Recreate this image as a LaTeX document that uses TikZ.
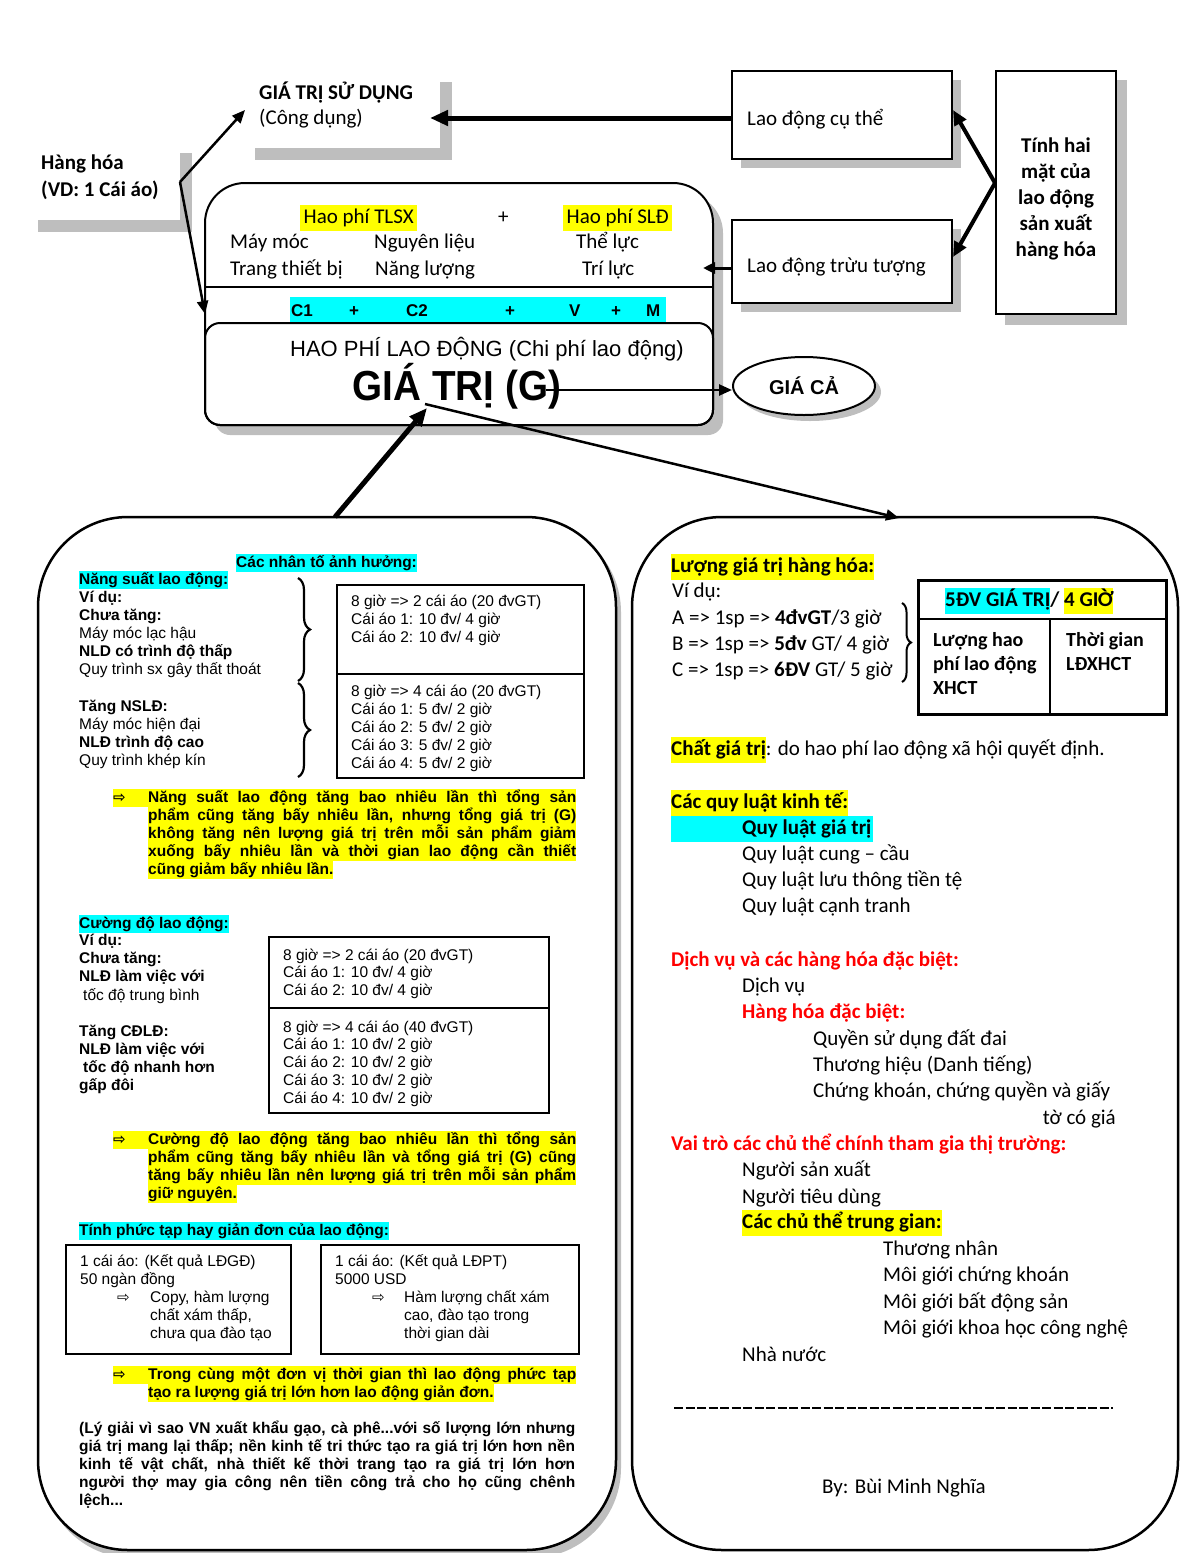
\documentclass[tikz,border=0pt]{standalone}
\usepackage{fontspec}
\setmainfont{Carlito}
\newfontfamily\arialf{Liberation Sans}
\newfontfamily\djv{DejaVu Sans}
\usetikzlibrary{arrows.meta,shapes.geometric,decorations.pathreplacing}
\definecolor{hy}{RGB}{255,255,0}
\definecolor{hc}{RGB}{0,255,255}
\definecolor{sh}{RGB}{190,190,190}
\definecolor{rd}{RGB}{255,0,0}
\newcommand\fc{\fontsize{21}{26}\selectfont}
\newcommand\fa{\arialf\fontsize{15.5}{18}\selectfont}
\newcommand\hlb[2]{{\setlength{\fboxsep}{0pt}\colorbox{#1}{\strut #2}}}
\newcommand\jl[1]{\makebox[428pt][s]{#1}}
\newcommand\jw[1]{\makebox[496pt][s]{#1}}
\newcommand\arr{\makebox[35pt][l]{\djv\fontsize{15}{18}\selectfont ⇨}}
\tikzset{
  every node/.style={inner sep=0pt},
  tc/.style={anchor=base west, font=\fc},
  tcb/.style={anchor=base west, font=\fc\bfseries},
  tred/.style={anchor=base west, font=\fc\bfseries, text=rd},
  ta/.style={anchor=base west, font=\fa},
  tab/.style={anchor=base west, font=\fa\bfseries},
  boxn/.style={draw, line width=2pt, fill=white, anchor=north west},
  thinarr/.style={line width=2.5pt, -{Triangle[length=13pt,width=11pt]}},
  thickarr/.style={line width=5pt, -{Triangle[length=18pt,width=15pt]}},
  midarr/.style={line width=4pt, -{Triangle[length=15pt,width=13pt]}},
  bracel/.style={decorate, decoration={brace, amplitude=12pt}, line width=2.2pt}
}
\begin{document}
\begin{tikzpicture}[x=1pt,y=-1pt]
\useasboundingbox (0,0) rectangle (1200,1553);

% ---------- gray L-shaped shadows ----------
\fill[sh] (38,220) rectangle (192,232);
\fill[sh] (180,153) rectangle (192,232);
\fill[sh] (255,148) rectangle (452,160);
\fill[sh] (440,82) rectangle (452,160);

% ---------- top texts ----------
\node[tcb] (hh1) at (41,169) {Hàng hóa};
\node[tcb] (hh2) at (41,196) {(VD: 1 Cái áo)};
\node[tcb] (gs1) at (259,99) {GIÁ TRỊ SỬ DỤNG};
\node[tc] (gs2) at (259,124) {(Công dụng)};

% ---------- right boxes ----------
\fill[sh] (741,80) rectangle (961,168);
\node[boxn, minimum width=220, minimum height=88] (ldct) at (731,70) {};
\node[tc] (ldctt) at (747,125) {Lao động cụ thể};
\fill[sh] (741,229) rectangle (961,312);
\node[boxn, minimum width=220, minimum height=83] (ldtt) at (731,219) {};
\node[tc] (ldttt) at (747,272) {Lao động trừu tượng};
\fill[sh] (1005,80) rectangle (1127,325);
\node[boxn, minimum width=120, minimum height=243] (tinh) at (995,70) {};
\node[tcb, anchor=base] (ti1) at (1056,152) {Tính hai};
\node[tcb, anchor=base] (ti2) at (1056,178) {mặt của};
\node[tcb, anchor=base] (ti3) at (1056,204) {lao động};
\node[tcb, anchor=base] (ti4) at (1056,230) {sản xuất};
\node[tcb, anchor=base] (ti5) at (1056,256) {hàng hóa};

% ---------- central box ----------
\fill[sh] (215,310) [rounded corners=40pt] -- (215,193) -- (723,193) -- (723,310) [rounded corners=15pt] -- (723,435) -- (215,435) -- cycle;
\filldraw[fill=white, line width=2pt] (205,300) [rounded corners=40pt] -- (205,183) -- (713,183) -- (713,300) [rounded corners=15pt] -- (713,425) -- (205,425) -- cycle;
\draw[line width=2pt] (205,287) -- (713,287);
\draw[line width=2pt, rounded corners=15pt] (205,323) rectangle (713,425);

\node[tc] (hp1) at (300,223) {\hlb{hy}{\,Hao phí TLSX\,}};
\node[tc] (hpplus) at (498,223) {+};
\node[tc] (hp2) at (563,223) {\hlb{hy}{\,Hao phí SLĐ\,}};
\node[tc] (mm) at (230,248) {Máy móc};
\node[tc] (nl) at (374,248) {Nguyên liệu};
\node[tc] (tl) at (576,248) {Thể lực};
\node[tc] (ttb) at (230,275) {Trang thiết bị};
\node[tc] (nlg) at (375,275) {Năng lượng};
\node[tc] (tri) at (582,275) {Trí lực};

\node[fill=hc, anchor=north west, minimum width=376, minimum height=25] (crow) at (290,297) {};
\node[anchor=base west, font=\arialf\bfseries\fontsize{17}{20}\selectfont] (c1) at (291,316) {C1};
\node[anchor=base west, font=\arialf\bfseries\fontsize{17}{20}\selectfont] (pl1) at (349,316) {+};
\node[anchor=base west, font=\arialf\bfseries\fontsize{17}{20}\selectfont] (c2) at (406,316) {C2};
\node[anchor=base west, font=\arialf\bfseries\fontsize{17}{20}\selectfont] (pl2) at (505,316) {+};
\node[anchor=base west, font=\arialf\bfseries\fontsize{17}{20}\selectfont] (cv) at (569,316) {V};
\node[anchor=base west, font=\arialf\bfseries\fontsize{17}{20}\selectfont] (pl3) at (611,316) {+};
\node[anchor=base west, font=\arialf\bfseries\fontsize{17}{20}\selectfont] (cm) at (646,316) {M};

\node[anchor=base, font=\arialf\fontsize{22}{26}\selectfont] (hpld) at (487,356) {HAO PHÍ LAO ĐỘNG (Chi phí lao động)};
\node[anchor=base, font=\arialf\bfseries\fontsize{42}{48}\selectfont] (gtg) at (457,400) {\scalebox{0.92}[1]{GIÁ TRỊ (G)}};

% GIA CA
\node[ellipse, fill=sh, minimum width=142, minimum height=58] (giacash) at (810,392) {};
\node[ellipse, draw, line width=2pt, fill=white, minimum width=142, minimum height=58, font=\arialf\bfseries\fontsize{20}{24}\selectfont] (giaca) at (804,386) {GIÁ CẢ};

% ---------- lower panels ----------
\fill[sh, rounded corners=90pt] (43,522) rectangle (621,1558);
\filldraw[fill=white, line width=2.5pt, rounded corners=90pt] (38,517) rectangle (616,1550);
\draw[line width=2.5pt, rounded corners=90pt] (632,517) rectangle (1178,1550);

% ---------- connectors ----------
\coordinate (hhj) at (180,182);
\coordinate (gsin) at (245,110);
\coordinate (boxin) at (205,314);
\coordinate (gsarr) at (430,118);
\coordinate (ldcts) at (731,118);
\coordinate (tinhj) at (995,183);
\coordinate (ldcte) at (953,110);
\coordinate (ldtte) at (953,257);
\coordinate (ldtts) at (731,268);
\coordinate (boxr) at (703,268);
\coordinate (gts) at (546,390);
\coordinate (lpt) at (335,517);
\coordinate (gtb) at (427,408);
\coordinate (gtb2) at (425,404);
\coordinate (rpt) at (899,518);

\draw[thinarr] (hhj) -- (gsin);
\draw[thinarr] (hhj) -- (boxin);
\draw[thickarr] (ldcts) -- (gsarr);
\draw[midarr] (tinhj) -- (ldcte);
\draw[midarr] (tinhj) -- (ldtte);
\draw[line width=3pt, -{Triangle[length=12pt,width=11pt]}] (ldtts) -- (boxr);
\draw[thinarr] (gts) -- (giaca.west |- gts);
\draw[thickarr] (lpt) -- (gtb);
\draw[thinarr] (gtb2) -- (rpt);

% ---------- left panel ----------
\node[tab] (l1) at (236,567) {\hlb{hc}{Các nhân tố ảnh hưởng:}};
\node[tab] (l2) at (79,584) {\hlb{hc}{Năng suất lao động:}};
\node[tab] (l3) at (79,602) {Ví dụ:};
\node[tab] (l4) at (79,620) {Chưa tăng:};
\node[ta] (l5) at (79,638) {Máy móc lạc hậu};
\node[tab] (l6) at (79,656) {NLD có trình độ thấp};
\node[ta] (l7) at (79,674) {Quy trình sx gây thất thoát};
\node[tab] (l8) at (79,711) {Tăng NSLĐ:};
\node[ta] (l9) at (79,729) {Máy móc hiện đại};
\node[tab] (l10) at (79,747) {NLĐ trình độ cao};
\node[ta] (l11) at (79,765) {Quy trình khép kín};

\draw[bracel] (298,578) -- (298,681);
\draw[bracel] (298,683) -- (298,777);

\node[boxn, minimum width=247, minimum height=193] (nbox) at (336,584) {};
\draw[line width=2pt] (336,674) -- (583,674);
\node[ta] (n1) at (351,606) {8 giờ => 2 cái áo (20 đvGT)};
\node[ta] (n2) at (351,624) {Cái áo 1: 10 đv/ 4 giờ};
\node[ta] (n3) at (351,642) {Cái áo 2: 10 đv/ 4 giờ};
\node[ta] (n4) at (351,696) {8 giờ => 4 cái áo (20 đvGT)};
\node[ta] (n5) at (351,714) {Cái áo 1: 5 đv/ 2 giờ};
\node[ta] (n6) at (351,732) {Cái áo 2: 5 đv/ 2 giờ};
\node[ta] (n7) at (351,750) {Cái áo 3: 5 đv/ 2 giờ};
\node[ta] (n8) at (351,768) {Cái áo 4: 5 đv/ 2 giờ};

\node[tab] (p1a) at (113,802) {\hlb{hy}{\arr\jl{Năng suất lao động tăng bao nhiêu lần thì tổng sản}}};
\node[tab] (p1b) at (148,820) {\hlb{hy}{\jl{phẩm cũng tăng bấy nhiêu lần, nhưng tổng giá trị (G)}}};
\node[tab] (p1c) at (148,838) {\hlb{hy}{\jl{không tăng nên lượng giá trị trên mỗi sản phẩm giảm}}};
\node[tab] (p1d) at (148,856) {\hlb{hy}{\jl{xuống bấy nhiêu lần và thời gian lao động cần thiết}}};
\node[tab] (p1e) at (148,874) {\hlb{hy}{cũng giảm bấy nhiêu lần.}};

\node[tab] (k1) at (79,928) {\hlb{hc}{Cường độ lao động:}};
\node[tab] (k2) at (79,945) {Ví dụ:};
\node[tab] (k3) at (79,963) {Chưa tăng:};
\node[tab] (k4) at (79,981) {NLĐ làm việc với};
\node[ta] (k5) at (83,1000) {tốc độ trung bình};
\node[tab] (k6) at (79,1036) {Tăng CĐLĐ:};
\node[tab] (k7) at (79,1054) {NLĐ làm việc với};
\node[tab] (k8) at (83,1072) {tốc độ nhanh hơn};
\node[tab] (k9) at (79,1090) {gấp đôi};

\node[boxn, minimum width=280, minimum height=176] (kbox) at (268,936) {};
\draw[line width=2pt] (268,1008) -- (548,1008);
\node[ta] (m1) at (283,960) {8 giờ => 2 cái áo (20 đvGT)};
\node[ta] (m2) at (283,977) {Cái áo 1: 10 đv/ 4 giờ};
\node[ta] (m3) at (283,995) {Cái áo 2: 10 đv/ 4 giờ};
\node[ta] (m4) at (283,1032) {8 giờ => 4 cái áo (40 đvGT)};
\node[ta] (m5) at (283,1049) {Cái áo 1: 10 đv/ 2 giờ};
\node[ta] (m6) at (283,1067) {Cái áo 2: 10 đv/ 2 giờ};
\node[ta] (m7) at (283,1085) {Cái áo 3: 10 đv/ 2 giờ};
\node[ta] (m8) at (283,1103) {Cái áo 4: 10 đv/ 2 giờ};

\node[tab] (p2a) at (113,1144) {\hlb{hy}{\arr\jl{Cường độ lao động tăng bao nhiêu lần thì tổng sản}}};
\node[tab] (p2b) at (148,1162) {\hlb{hy}{\jl{phẩm cũng tăng bấy nhiêu lần và tổng giá trị (G) cũng}}};
\node[tab] (p2c) at (148,1180) {\hlb{hy}{\jl{tăng bấy nhiêu lần nên lượng giá trị trên mỗi sản phẩm}}};
\node[tab] (p2d) at (148,1198) {\hlb{hy}{giữ nguyên.}};

\node[tab] (s1) at (79,1235) {\hlb{hc}{Tính phức tạp hay giản đơn của lao động:}};
\node[boxn, minimum width=225, minimum height=109] (sbox1) at (65,1244) {};
\node[ta] (s2) at (80,1266) {1 cái áo: (Kết quả LĐGĐ)};
\node[ta] (s3) at (80,1284) {50 ngàn đồng};
\node[anchor=base west, font=\djv\fontsize{15}{18}\selectfont] (s4) at (117,1302) {⇨};
\node[ta] (s5) at (150,1302) {Copy, hàm lượng};
\node[ta] (s6) at (150,1320) {chất xám thấp,};
\node[ta] (s7) at (150,1338) {chưa qua đào tạo};
\node[boxn, minimum width=258, minimum height=109] (sbox2) at (320,1244) {};
\node[ta] (s8) at (335,1266) {1 cái áo: (Kết quả LĐPT)};
\node[ta] (s9) at (335,1284) {5000 USD};
\node[anchor=base west, font=\djv\fontsize{15}{18}\selectfont] (s10) at (372,1302) {⇨};
\node[ta] (s11) at (404,1302) {Hàm lượng chất xám};
\node[ta] (s12) at (404,1320) {cao, đào tạo trong};
\node[ta] (s13) at (404,1338) {thời gian dài};

\node[tab] (p3a) at (113,1379) {\hlb{hy}{\arr\jl{Trong cùng một đơn vị thời gian thì lao động phức tạp}}};
\node[tab] (p3b) at (148,1397) {\hlb{hy}{tạo ra lượng giá trị lớn hơn lao động giản đơn.}};

\node[tab] (q1) at (79,1433) {\jw{(Lý giải vì sao VN xuất khẩu gạo, cà phê...với số lượng lớn nhưng}};
\node[tab] (q2) at (79,1451) {\jw{giá trị mang lại thấp; nền kinh tế tri thức tạo ra giá trị lớn hơn nền}};
\node[tab] (q3) at (79,1469) {\jw{kinh tế vật chất, nhà thiết kế thời trang tạo ra giá trị lớn hơn}};
\node[tab] (q4) at (79,1487) {\jw{người thợ may gia công nên tiền công trả cho họ cũng chênh}};
\node[tab] (q5) at (79,1505) {lệch...};

% ---------- right panel ----------
\node[tcb] (r1) at (671,572) {\hlb{hy}{Lượng giá trị hàng hóa:}};
\node[tc] (r2) at (672,597) {Ví dụ:};
\node[tc] (r3) at (672,624) {A => 1sp => \textbf{4đvGT}/3 giờ};
\node[tc] (r4) at (672,650) {B => 1sp => \textbf{5đv} GT/ 4 giờ};
\node[tc] (r5) at (672,676) {C => 1sp => \textbf{6ĐV} GT/ 5 giờ};
\draw[decorate, decoration={brace, amplitude=9pt}, line width=2pt] (902,603) -- (902,682);

\node[draw, line width=2.5pt, anchor=north west, minimum width=248, minimum height=134] (tbl) at (917,579) {};
\draw[line width=2.5pt] (917,619) -- (1165,619);
\draw[line width=2.5pt] (1050,619) -- (1050,713);
\node[tcb] (th) at (945,606) {\hlb{hc}{5ĐV GIÁ TRỊ}/ \hlb{hy}{4 GIỜ}};
\node[anchor=base west, font=\fontsize{20}{24}\selectfont\bfseries] (tc1) at (933,646) {Lượng hao};
\node[anchor=base west, font=\fontsize{20}{24}\selectfont\bfseries] (tc2) at (933,670) {phí lao động};
\node[anchor=base west, font=\fontsize{20}{24}\selectfont\bfseries] (tc3) at (933,694) {XHCT};
\node[anchor=base west, font=\fontsize{20}{24}\selectfont\bfseries] (tc4) at (1066,646) {Thời gian};
\node[anchor=base west, font=\fontsize{20}{24}\selectfont\bfseries] (tc5) at (1066,670) {LĐXHCT};

\node[tc] (r6) at (671,755) {\hlb{hy}{\textbf{Chất giá trị}}: do hao phí lao động xã hội quyết định.};
\node[tcb] (r7) at (671,808) {\hlb{hy}{Các quy luật kinh tế:}};
\node[tcb] (r8) at (671,834) {\hlb{hc}{\hspace{71pt}Quy luật giá trị\hspace{2pt}}};
\node[tc] (r9) at (742,860) {Quy luật cung – cầu};
\node[tc] (r10) at (742,886) {Quy luật lưu thông tiền tệ};
\node[tc] (r11) at (742,912) {Quy luật cạnh tranh};
\node[tred] (r12) at (671,966) {Dịch vụ và các hàng hóa đặc biệt:};
\node[tc] (r13) at (742,992) {Dịch vụ};
\node[tred] (r14) at (742,1018) {Hàng hóa đặc biệt:};
\node[tc] (r15) at (813,1045) {Quyền sử dụng đất đai};
\node[tc] (r16) at (813,1071) {Thương hiệu (Danh tiếng)};
\node[tc] (r17) at (813,1097) {Chứng khoán, chứng quyền và giấy};
\node[tc, anchor=base east] (r18) at (1116,1124) {tờ có giá};
\node[tred] (r19) at (671,1150) {Vai trò các chủ thể chính tham gia thị trường:};
\node[tc] (r20) at (742,1176) {Người sản xuất};
\node[tc] (r21) at (742,1203) {Người tiêu dùng};
\node[tcb] (r22) at (742,1228) {\hlb{hy}{Các chủ thể trung gian:}};
\node[tc] (r23) at (883,1255) {Thương nhân};
\node[tc] (r24) at (883,1281) {Môi giới chứng khoán};
\node[tc] (r25) at (883,1308) {Môi giới bất động sản};
\node[tc] (r26) at (883,1334) {Môi giới khoa học công nghệ};
\node[tc] (r27) at (742,1361) {Nhà nước};
\draw[line width=1.3pt, dash pattern=on 9pt off 2.5pt] (674,1408) -- (1113,1408);
\node[tc] (r28) at (822,1493) {By: Bùi Minh Nghĩa};
\end{tikzpicture}
\end{document}
